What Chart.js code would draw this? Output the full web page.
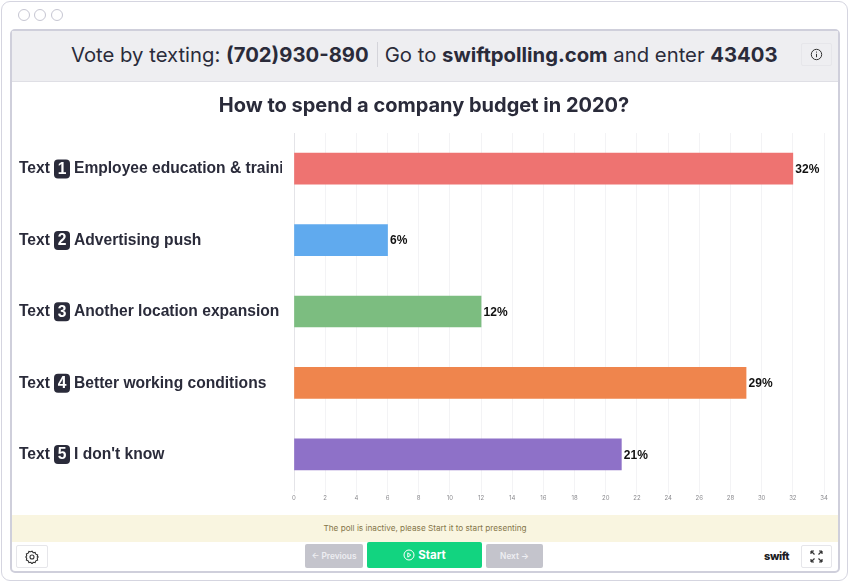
<!DOCTYPE html>
<html>
<head>
<meta charset="utf-8">
<script src="https://cdn.jsdelivr.net/npm/chart.js@4"></script>
<style>
  html, body { margin: 0; padding: 0; background: #fff; overflow: hidden; }
  body { width: 850px; height: 583px; position: relative; font-family: Inter, sans-serif; color: #2a2b3a; }
  .abs { position: absolute; box-sizing: border-box; white-space: nowrap; }
  #outer { left: 1px; top: 1px; width: 847px; height: 580px; border: 1px solid #d5d5e0; border-radius: 9px; }
  .dot { width: 12px; height: 12px; top: 9px; border: 1px solid #c6c6d2; border-radius: 50%; }
  #inner { left: 10px; top: 29px; width: 830px; height: 544px; border: 2px solid #cfcfdb; border-radius: 5px; }
  #header { left: 12px; top: 31px; width: 826px; height: 51px; background: #eeeef1; border-bottom: 1px solid #dfdfe5; }
  #headText { left: 71px; top: 41px; font-size: 20.3px; line-height: 28px; }
  #headText b { font-weight: 700; }
  #headSep { left: 377px; top: 42px; width: 1px; height: 25px; background: #d4d4da; }
  .btn { border: 1px solid #e6e6ea; border-radius: 2px; background: #fff; display: flex; align-items: center; justify-content: center; }
  #notice { left: 12px; top: 515px; width: 826px; height: 27px; background: #f9f5e0; color: #85764a; font-size: 8.2px; line-height: 27px; text-align: center; }
  .nav { top: 544px; height: 24px; background: #c4c4cc; color: #eeeef2; font-size: 8.3px; font-weight: 600; border-radius: 2px; line-height: 24px; text-align: center; }
  #start { left: 367px; top: 542px; width: 115px; height: 26px; background: #12d480; color: #fff; font-size: 11.5px; font-weight: 700; border-radius: 2px; display: flex; align-items: center; justify-content: center; gap: 3px; }
  #logo { left: 764px; top: 549px; font-size: 11px; font-weight: 800; letter-spacing: -0.4px; color: #1c1c24; }
  #chartCanvas { position: absolute; left: 12px; top: 82px; }
</style>
</head>
<body>
<div class="abs" id="outer"></div>
<div class="abs dot" style="left:18px"></div>
<div class="abs dot" style="left:34px"></div>
<div class="abs dot" style="left:51px"></div>
<div class="abs" id="inner"></div>
<div class="abs" id="header"></div>
<div class="abs" id="headText">Vote by texting: <b>(702)930-890</b><span style="display:inline-block;width:16px"></span>Go to <b>swiftpolling.com</b> and enter <b>43403</b></div>
<div class="abs" id="headSep"></div>
<div class="abs btn" style="left:801px;top:43px;width:31px;height:23px;background:transparent">
  <svg width="13" height="13" viewBox="0 0 13 13" fill="none" stroke="#333" stroke-width="1"><circle cx="6.5" cy="6.5" r="5.2"/><path d="M6.5 5.8v3.4M6.5 3.6v1"/></svg>
</div>

<canvas id="chartCanvas" width="826" height="433"></canvas>

<div class="abs" id="notice">The poll is inactive, please Start it to start presenting</div>
<div class="abs btn" style="left:16px;top:545px;width:32px;height:23px">
  <svg width="14" height="14" viewBox="0 0 14 14" fill="none" stroke="#333" stroke-width="1.1"><circle cx="7" cy="7" r="2"/><path d="M7 1.2l1.2 1.5 1.9-.3.7 1.8 1.8.7-.3 1.9L13.2 7l-.9 1.2.3 1.9-1.8.7-.7 1.8-1.9-.3L7 13.8l-1.2-1.500-1.900.3-.7-1.800-1.800-.7.3-1.900L.8 7l.9-1.200-.3-1.900 1.800-.7.7-1.800 1.900.3z"/></svg>
</div>
<div class="abs nav" style="left:305px;width:58px">&#8592; Previous</div>
<div class="abs" id="start">
  <svg width="12" height="12" viewBox="0 0 12 12" fill="none" stroke="#fff" stroke-width="1"><circle cx="6" cy="6" r="5"/><path d="M4.800 3.800l3 2.200-3 2.200z"/></svg>
  <span>Start</span>
</div>
<div class="abs nav" style="left:486px;width:57px">Next &#8594;</div>
<div class="abs" id="logo">swift</div>
<div class="abs btn" style="left:801px;top:545px;width:31px;height:23px">
  <svg width="13" height="13" viewBox="0 0 13 13" fill="none" stroke="#333" stroke-width="1.200"><path d="M1 1l3.500 3.500M1 1h3M1 1v3M12 1L8.500 4.500M12 1H9M12 1v3M1 12l3.500-3.500M1 12h3M1 12V9M12 12L8.500 8.500M12 12H9M12 12V9"/></svg>
</div>

<script>
const options = ['Employee education & training', 'Advertising push', 'Another location expansion', 'Better working conditions', "I don't know"];
const optionPrefix = 'Text';
const shares = [32, 6, 12, 29, 21];
const barColors = ['#ee7371', '#60aaee', '#7cbd80', '#ef854d', '#8e71c8'];
const chartTitle = 'How to spend a company budget in 2020?';

// Draws the "Text [n] label" rows left of the plot, clipped like the original
const optionLabels = {
  id: 'optionLabels',
  afterDraw(chart) {
    const ctx = chart.ctx;
    const yScale = chart.scales.y;
    ctx.save();
    ctx.beginPath();
    ctx.rect(0, 50, 270, 360);
    ctx.clip();
    ctx.textBaseline = 'middle';
    ctx.font = 'bold 15.6px "Liberation Sans"';
    options.forEach(function(label, i) {
      const y = yScale.getPixelForValue(i) + 0.3;
      ctx.fillStyle = '#2a2b3a';
      ctx.textAlign = 'left';
      ctx.fillText(optionPrefix, 7, y);
      ctx.beginPath();
      ctx.roundRect(42, y - 9.5, 16, 19, 4);
      ctx.fill();
      ctx.fillStyle = '#fff';
      ctx.textAlign = 'center';
      ctx.fillText(String(i + 1), 50, y + 0.5);
      ctx.fillStyle = '#2a2b3a';
      ctx.textAlign = 'left';
      ctx.fillText(label, 62, y);
    });
    ctx.restore();
  }
};

// Percentage at the end of each bar
const valueLabels = {
  id: 'valueLabels',
  afterDatasetsDraw(chart) {
    const ctx = chart.ctx;
    ctx.save();
    ctx.font = 'bold 12px "Liberation Sans"';
    ctx.fillStyle = '#111';
    ctx.textBaseline = 'middle';
    chart.getDatasetMeta(0).data.forEach(function(bar, i) {
      ctx.fillText(shares[i] + '%', bar.x + 2.5, bar.y + 1);
    });
    ctx.restore();
  }
};

new Chart(document.getElementById('chartCanvas'), {
  type: 'bar',
  data: {
    labels: options,
    datasets: [{
      data: shares,
      backgroundColor: barColors,
      barThickness: 31,
      borderWidth: 0
    }]
  },
  plugins: [optionLabels, valueLabels],
  options: {
    indexAxis: 'y',
    responsive: false,
    animation: false,
    layout: { padding: { left: 12, right: 14, top: 0, bottom: 8 } },
    plugins: {
      legend: { display: false },
      tooltip: { enabled: false },
      title: {
        display: true,
        text: chartTitle,
        color: '#2a2b3a',
        font: { family: 'Inter', size: 20, weight: 'bold' },
        padding: { top: 12, bottom: 15 }
      }
    },
    scales: {
      x: {
        min: 0,
        max: 34,
        afterFit(scale) { scale.height = 17; },
        grid: { color: '#f3f3f5', drawTicks: true, tickLength: 4, tickColor: '#f3f3f5' },
        border: { display: false },
        ticks: {
          stepSize: 2,
          autoSkip: false,
          maxRotation: 0,
          padding: 1,
          color: '#8b8b8f',
          font: { family: 'Inter', size: 6 }
        }
      },
      y: {
        afterFit(scale) { scale.width = 270; },
        grid: { display: false },
        border: { display: true, color: '#e4e4e8' },
        ticks: { display: false }
      }
    }
  }
});
</script>
</body>
</html>
